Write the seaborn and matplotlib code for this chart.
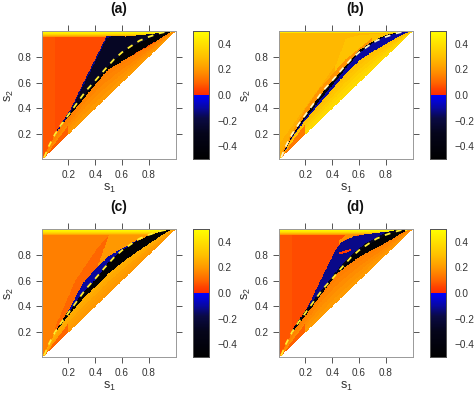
import numpy as np
import matplotlib
matplotlib.use('Agg')
import matplotlib.pyplot as plt
from matplotlib.colors import LinearSegmentedColormap
import seaborn as sns

# colour scale of the bars
bar_stops = [0.0, 0.2, 0.32, 0.4, 0.4999, 0.5, 0.55, 0.6, 0.7, 0.8, 0.9, 1.0]
bar_colors = ['#000000', '#05051a', '#0a0a45', '#0808a0', '#0000ff', '#ff2a00', '#ff4400',
              '#ff6600', '#ff9800', '#ffc000', '#ffe000', '#ffff00']

tick_values = [0.2, 0.4, 0.6, 0.8]
bar_ticks = [-0.4, -0.2, 0.0, 0.2, 0.4]
panel_names = ['(a)', '(b)', '(c)', '(d)']

# dashed curve
curve_s1 = [0.02, 0.05, 0.10, 0.15, 0.20, 0.27, 0.33, 0.40, 0.47, 0.54, 0.60, 0.67, 0.73, 0.80, 0.87, 0.93, 0.98]
curve_s2 = [0.02, 0.10, 0.20, 0.28, 0.35, 0.45, 0.535, 0.615, 0.70, 0.78, 0.835, 0.885, 0.925, 0.955, 0.98, 0.995, 1.0]

full_s1 = [0.0, 1.0]
top_edge = [0.955, 0.955]
one = [1.0, 1.0]

# band edges, panel a
a_s1 = [0.10, 0.15, 0.21, 0.31, 0.435, 0.56, 0.685, 0.81, 0.93, 0.98]
a_low = [0.195, 0.275, 0.345, 0.51, 0.655, 0.746, 0.816, 0.889, 0.975, 1.0]
a_s1_up = [0.10, 0.15, 0.21, 0.485, 0.63, 0.88, 0.96]
a_up = [0.205, 0.29, 0.385, 0.966, 0.958, 0.987, 1.0]
a_blue_s1 = [0.10, 0.21, 0.485, 0.52]
a_blue_up = [0.205, 0.385, 0.966, 0.96]
a_blue_low = [0.195, 0.365, 0.945, 0.955]

# band edges, panel b
b_s1 = [0.02, 0.10, 0.20, 0.30, 0.40, 0.50, 0.60, 0.70, 0.80, 0.90, 0.98]
b_low = [0.02, 0.175, 0.31, 0.43, 0.55, 0.67, 0.77, 0.84, 0.90, 0.96, 1.0]
b_mid = [0.02, 0.18, 0.325, 0.455, 0.58, 0.71, 0.83, 0.905, 0.96, 0.99, 1.0]
b_up = [0.03, 0.19, 0.35, 0.49, 0.61, 0.73, 0.85, 0.92, 0.97, 0.995, 1.0]
b_ridge_s1 = [0.42, 0.50, 0.60, 0.75, 0.90]
b_ridge_low = [0.62, 0.73, 0.85, 0.945, 0.99]
b_ridge_high = [0.72, 0.94, 0.97, 0.98, 0.99]

# band edges, panel c
c_s1 = [0.10, 0.20, 0.30, 0.40, 0.50, 0.60, 0.70, 0.80, 0.90, 0.97]
c_low = [0.195, 0.33, 0.45, 0.55, 0.655, 0.74, 0.815, 0.885, 0.955, 1.0]
c_up = [0.205, 0.37, 0.57, 0.69, 0.79, 0.85, 0.90, 0.95, 0.985, 1.0]
c_blue_s1 = [0.20, 0.30, 0.40, 0.50, 0.60, 0.72]
c_blue_low = [0.35, 0.50, 0.605, 0.745, 0.835, 0.915]
c_blue_up = [0.37, 0.57, 0.69, 0.79, 0.85, 0.92]
c_ridge_s1 = [0.42, 0.50, 0.60, 0.80, 0.90]
c_ridge_low = [0.70, 0.79, 0.85, 0.95, 0.955]
c_ridge_high = [0.72, 0.95, 0.955, 0.955, 0.955]
c_shade_s1 = [0.10, 0.25, 0.42, 0.50]
c_shade_low = [0.20, 0.47, 0.70, 0.79]
c_shade_high = [0.24, 0.60, 0.86, 0.95]

# band edges, panel d
d_s1 = [0.10, 0.20, 0.31, 0.435, 0.56, 0.685, 0.81, 0.93, 0.98]
d_low = [0.195, 0.33, 0.51, 0.655, 0.755, 0.835, 0.90, 0.98, 1.0]
d_s1_up = [0.10, 0.20, 0.43, 0.47, 0.55, 0.65, 0.80, 0.95]
d_up = [0.205, 0.365, 0.85, 0.90, 0.94, 0.96, 0.98, 1.0]
d_ridge_s1 = [0.45, 0.50, 0.60, 0.80]
d_ridge_low = [0.88, 0.92, 0.955, 0.955]
d_ridge_high = [0.91, 0.955, 0.955, 0.955]
d_pink_s1 = [0.45, 0.54]
d_pink_low = [0.805, 0.83]
d_pink_high = [0.82, 0.845]

# cell levels per region
strip_heights = [0.955, 0.963, 0.971, 0.979, 0.987]
strip_a = [0.2, 0.28, 0.36, 0.42, 0.47]
strip_c = [0.24, 0.32, 0.38, 0.43, 0.47]
wedge_fracs = [1.0, 0.8, 0.6, 0.4, 0.2]
wedge_a = [0.15, 0.16, 0.175, 0.19, 0.205]
wedge_b = [0.3, 0.32, 0.34, 0.36, 0.38]
wedge_c = [0.25, 0.24, 0.22, 0.21, 0.2]

n_cells = 240
s1_axis = np.linspace(0.005, 1.0, n_cells)
s2_axis = np.linspace(0.005, 1.0, n_cells)
grid_s1, grid_s2 = np.meshgrid(s1_axis, s2_axis)


def paint(field, knots, low, high, level):
    """Fill the cells lying between two read-off edges with one level."""
    bottom = np.interp(grid_s1, knots, low)
    upper = np.interp(grid_s1, knots, high)
    inside = (grid_s1 >= knots[0]) & (grid_s1 <= knots[-1]) & (grid_s2 >= bottom) & (grid_s2 <= upper)
    field[inside] = level


def top_strips(field, levels):
    for height, level in zip(strip_heights, levels):
        paint(field, full_s1, [height, height], one, level)


def wedge(field, knots, low, levels):
    """Lower wedge between the band and the diagonal, in shades."""
    for frac, level in zip(wedge_fracs, levels):
        paint(field, knots, knots, [k + (l - k) * frac for k, l in zip(knots, low)], level)


def panel_a():
    field = np.full(grid_s1.shape, 0.06)
    paint(field, [0.0, 0.1], [0.0, 0.0], top_edge, 0.075)
    top_strips(field, strip_a)
    wedge(field, [0.0] + a_s1 + [1.0], [0.0] + a_low + [1.0], wedge_a)
    paint(field, [0.02, 0.10, 0.20], [0.02, 0.10, 0.20], [0.02, 0.13, 0.27], 0.09)
    paint(field, a_s1_up, np.interp(a_s1_up, a_s1, a_low), a_up, -0.47)
    paint(field, a_s1_up, np.interp(a_s1_up, curve_s1, curve_s2), a_up, -0.27)
    paint(field, a_blue_s1, a_blue_low, a_blue_up, -0.13)
    return field


def panel_b():
    field = np.full(grid_s1.shape, 0.28)
    paint(field, [0.0, 0.5, 0.6], [0.0, 0.0, 0.0], [0.12, 0.85, 0.98], 0.25)
    paint(field, full_s1, [0.985, 0.985], one, 0.42)
    paint(field, b_ridge_s1, b_ridge_low, b_ridge_high, 0.31)
    wedge(field, [0.0] + b_s1 + [1.0], [0.0] + b_low + [1.0], wedge_b)
    paint(field, [0.02, 0.10, 0.20], [0.02, 0.10, 0.20], [0.02, 0.14, 0.28], 0.14)
    paint(field, [0.02, 0.2, 0.3, 0.5, 0.7], [0.02, 0.35, 0.49, 0.73, 0.92], [0.06, 0.40, 0.55, 0.78, 0.95], 0.19)
    paint(field, b_s1, b_low, b_up, -0.1)
    paint(field, b_s1, b_mid, b_up, -0.42)
    return field


def panel_c():
    field = np.full(grid_s1.shape, 0.15)
    paint(field, c_shade_s1, c_shade_low, c_shade_high, 0.1)
    top_strips(field, strip_c)
    paint(field, c_ridge_s1, c_ridge_low, c_ridge_high, 0.2)
    wedge(field, [0.0] + c_s1 + [1.0], [0.0] + c_low + [1.0], wedge_c)
    paint(field, [0.02, 0.10, 0.20], [0.02, 0.10, 0.20], [0.02, 0.13, 0.27], 0.1)
    paint(field, c_s1, c_low, c_up, -0.47)
    paint(field, c_blue_s1, c_blue_low, c_blue_up, -0.1)
    return field


def panel_d():
    field = np.full(grid_s1.shape, 0.06)
    paint(field, [0.0, 0.1], [0.0, 0.0], top_edge, 0.075)
    top_strips(field, strip_a)
    paint(field, d_ridge_s1, d_ridge_low, d_ridge_high, 0.18)
    wedge(field, [0.0] + d_s1 + [1.0], [0.0] + d_low + [1.0], wedge_a)
    paint(field, [0.02, 0.10, 0.20], [0.02, 0.10, 0.20], [0.02, 0.13, 0.27], 0.09)
    paint(field, d_s1_up, np.interp(d_s1_up, d_s1, d_low), d_up, -0.47)
    on_curve = np.interp(d_s1_up, curve_s1, curve_s2)
    paint(field, d_s1_up, on_curve, d_up, -0.12)
    paint(field, d_s1_up, on_curve, on_curve + 0.02, -0.3)
    paint(field, d_pink_s1, d_pink_low, d_pink_high, 0.03)
    return field


plt.rcParams['font.family'] = ['Liberation Sans', 'DejaVu Sans']
plt.rcParams['mathtext.default'] = 'regular'
edge = '#555555'
text_col = '#333333'
W, H = 474.0, 395.0
scale = LinearSegmentedColormap.from_list('band', list(zip(bar_stops, bar_colors)), N=512)

fig = plt.figure(figsize=(4.74, 3.95), dpi=100)
fields = [panel_a(), panel_b(), panel_c(), panel_d()]
offsets = [(0, 0), (237, 0), (0, 198), (237, 198)]

for name, field, (ox, oy) in zip(panel_names, fields, offsets):
    box = [(ox + 42.3) / W, 1 - (oy + 159.3) / H, 133.4 / W, 128.3 / H]
    ax = fig.add_axes(box)
    cax = fig.add_axes([(ox + 193.3) / W, box[1], 16.0 / W, box[3]])
    field = np.where(grid_s2 < grid_s1, np.nan, field)
    sns.heatmap(field, ax=ax, cbar_ax=cax, cmap=scale, vmin=-0.5, vmax=0.5,
                xticklabels=False, yticklabels=False, rasterized=True)
    ax.invert_yaxis()
    ax.set_xticks([])
    ax.set_yticks([])
    ax.set_axis_off()

    # overlay in data units for the curve, ticks and frame
    top = fig.add_axes(box, facecolor='none')
    sns.lineplot(x=curve_s1, y=curve_s2, ax=top, color='#ffee30' if name != '(b)' else '#fff8c0',
                 lw=1.3, dashes=(3.2, 3.2), estimator=None, sort=False, legend=False)
    top.set_xlim(0.005, 1.0)
    top.set_ylim(0.005, 1.0)
    top.set_xticks(tick_values)
    top.set_yticks(tick_values)
    top.set_xticklabels(['%.1f' % t for t in tick_values])
    top.set_yticklabels(['%.1f' % t for t in tick_values])
    top.tick_params(top=True, right=True, length=4.5, width=0.7, color=edge, labelcolor=text_col,
                    labelsize=7.2, pad=3)
    top.set_xlabel('s$_1$', fontsize=9, color=text_col)
    top.set_ylabel('s$_2$', fontsize=9, color=text_col)
    top.xaxis.set_label_coords(0.5, (159.3 - 188.0) / 128.3)
    top.yaxis.set_label_coords((9.5 - 42.3) / 133.4, 0.5)
    top.xaxis.label.set_va('center')
    top.yaxis.label.set_va('center')
    for spine in top.spines.values():
        spine.set_color('#999999')
        spine.set_linewidth(0.7)

    cax.set_yticks(bar_ticks)
    cax.set_yticklabels([('%.1f' % t).replace('-', '\u2212') for t in bar_ticks])
    cax.tick_params(right=True, left=False, length=0, labelsize=7.2, labelcolor=text_col, pad=6)
    for spine in cax.spines.values():
        spine.set_visible(True)
        spine.set_color(edge)
        spine.set_linewidth(0.7)

    fig.text((ox + 118.5) / W, 1 - (oy + 8.5) / H, name, ha='center', va='center',
             fontsize=10, fontweight='bold', color='#111111')

fig.savefig('out.png', dpi=100)
